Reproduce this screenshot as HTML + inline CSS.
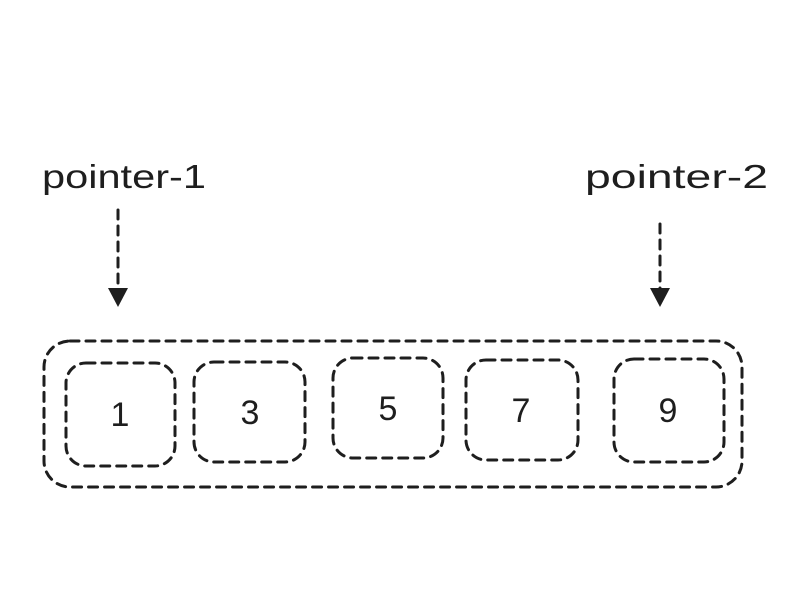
<!DOCTYPE html>
<html><head><meta charset="utf-8"><style>
html,body{margin:0;padding:0;background:#fff;}
svg{display:block;}
text{font-family:"Liberation Sans",sans-serif;fill:#1e1e1e;}
</style></head><body>
<svg width="800" height="598" viewBox="0 0 800 598" xmlns="http://www.w3.org/2000/svg">
<g fill="none" stroke="#1e1e1e" stroke-width="3" stroke-dasharray="9 7" stroke-linecap="round">
<rect x="44" y="341" width="698" height="146" rx="26"/>
<rect x="66" y="363" width="109" height="103" rx="20"/>
<rect x="194" y="362" width="111" height="100" rx="20"/>
<rect x="333" y="358" width="110" height="100" rx="20"/>
<rect x="466" y="360" width="112" height="100" rx="20"/>
<rect x="614" y="359" width="110" height="103" rx="20"/>
<line x1="118" y1="210" x2="118" y2="290"/>
<line x1="660" y1="224" x2="660" y2="290"/>
</g>
<polygon points="108,288 128,288 118,307" fill="#1e1e1e"/>
<polygon points="650,288 670,288 660,307" fill="#1e1e1e"/>
<text x="42" y="188" font-size="33" textLength="164" lengthAdjust="spacingAndGlyphs">pointer-1</text>
<text x="585" y="188" font-size="33" textLength="183" lengthAdjust="spacingAndGlyphs">pointer-2</text>
<g font-size="34" text-anchor="middle">
<text x="120" y="426">1</text>
<text x="250" y="424">3</text>
<text x="388" y="420">5</text>
<text x="521" y="422">7</text>
<text x="668" y="422">9</text>
</g>
</svg>
</body></html>
